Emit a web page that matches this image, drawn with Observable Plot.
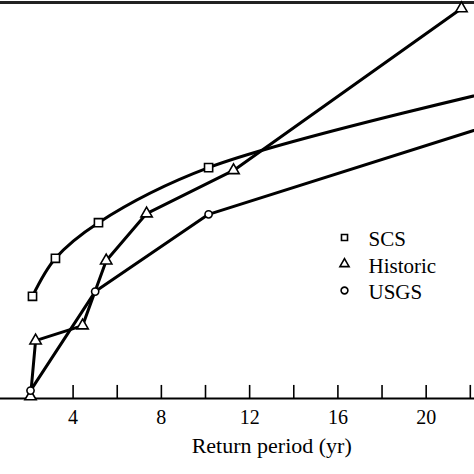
<!DOCTYPE html>
<html>
<head>
<meta charset="utf-8">
<script src="https://cdn.jsdelivr.net/npm/d3@7"></script>
<script src="https://cdn.jsdelivr.net/npm/@observablehq/plot@0.6"></script>
<style>
  html, body { margin: 0; padding: 0; background: #fff; }
  #chart svg { display: block; }
</style>
</head>
<body>
<div id="chart"></div>
<script>
// Return period (yr) and relative value (no y labels in source)
const scsX = [2.16, 3.2, 5.15, 10.14, 25];
const scsY = [25.8, 35.4, 44.4, 58.3, 80.1];
const histX = [2.07, 2.3, 4.43, 5.5, 7.33, 11.27, 21.6];
const histY = [0.5, 14.6, 18.4, 34.8, 46.7, 57.6, 98.5];
const usgsX = [2.07, 5.0, 10.14, 25];
const usgsY = [2.0, 27.0, 46.5, 72.7];

const majorTicks = [4, 8, 12, 16, 20];
const minorTicks = [6, 10, 14, 18, 22];
const xTitle = "Return period (yr)";
const seriesNames = ["SCS", "Historic", "USGS"];
const seriesSymbols = ["square", "triangle", "circle"];

const toRows = (xs, ys) => xs.map((x, i) => ({x, y: ys[i]}));
const scs = toRows(scsX, scsY);
const hist = toRows(histX, histY);
const usgs = toRows(usgsX, usgsY);
const legend = seriesNames.map((name, i) => ({name, symbol: seriesSymbols[i], i}));

const xDomain = [0.71, 22.19];
const inX = d => d.x >= xDomain[0] && d.x <= xDomain[1];

const font = "'Liberation Serif', 'DejaVu Serif', serif";

const chart = Plot.plot({
  width: 474,
  height: 474,
  marginLeft: 0,
  marginRight: 0,
  marginTop: 2,
  marginBottom: 76,
  style: {fontFamily: font, fontSize: "20px", background: "#fff", color: "#000"},
  x: {domain: xDomain, axis: null},
  y: {domain: [0, 100], axis: null},
  symbol: {type: "identity"},
  marks: [
    Plot.ruleY([100], {stroke: "#222", strokeWidth: 3, clip: false}),
    Plot.ruleY([0], {stroke: "#000", strokeWidth: 2}),
    Plot.ruleX(majorTicks.concat(minorTicks), {y1: 0, y2: 3.3, stroke: "#000", strokeWidth: 1.6}),
    Plot.text(majorTicks, {x: d => d, y: 0, dy: 19, text: d => String(d), fontSize: 20, fill: "#000"}),
    Plot.text([xTitle], {x: 13, y: 0, dy: 47, text: d => d, fontSize: 22, fill: "#000"}),

    Plot.line(scs, {x: "x", y: "y", curve: "catmull-rom", stroke: "#000", strokeWidth: 3, clip: true}),
    Plot.line(hist, {x: "x", y: "y", stroke: "#000", strokeWidth: 3, clip: true}),
    Plot.line(usgs, {x: "x", y: "y", stroke: "#000", strokeWidth: 3, clip: true}),

    Plot.dot(scs.filter(inX), {x: "x", y: "y", symbol: "square", r: 4.6, fill: "#fff", stroke: "#000", strokeWidth: 1.6}),
    Plot.dot(hist.filter(inX), {x: "x", y: "y", symbol: "triangle", r: 4.2, fill: "#fff", stroke: "#000", strokeWidth: 1.6}),
    Plot.dot(usgs.filter(inX), {x: "x", y: "y", symbol: "circle", r: 3.6, fill: "#fff", stroke: "#000", strokeWidth: 1.6}),

    // legend
    Plot.dot(legend, {frameAnchor: "top-left", symbol: "symbol", r: 3.4, fill: "#fff", stroke: "#000", strokeWidth: 1.6,
      render: (index, scales, values, dims, context, next) => {
        const g = next(index, scales, values, dims, context);
        d3.select(g).selectAll("path").attr("transform", (_, j) => `translate(${344},${237 + 26.5 * legend[index[j]].i})`);
        return g;
      }}),
    Plot.text(legend, {frameAnchor: "top-left", text: "name", textAnchor: "start", fontSize: 21, fill: "#000",
      render: (index, scales, values, dims, context, next) => {
        const g = next(index, scales, values, dims, context);
        d3.select(g).selectAll("text").attr("transform", (_, j) => `translate(${368},${231 + 26.5 * legend[index[j]].i})`);
        return g;
      }})
  ]
});

document.getElementById("chart").appendChild(chart);
</script>
</body>
</html>
